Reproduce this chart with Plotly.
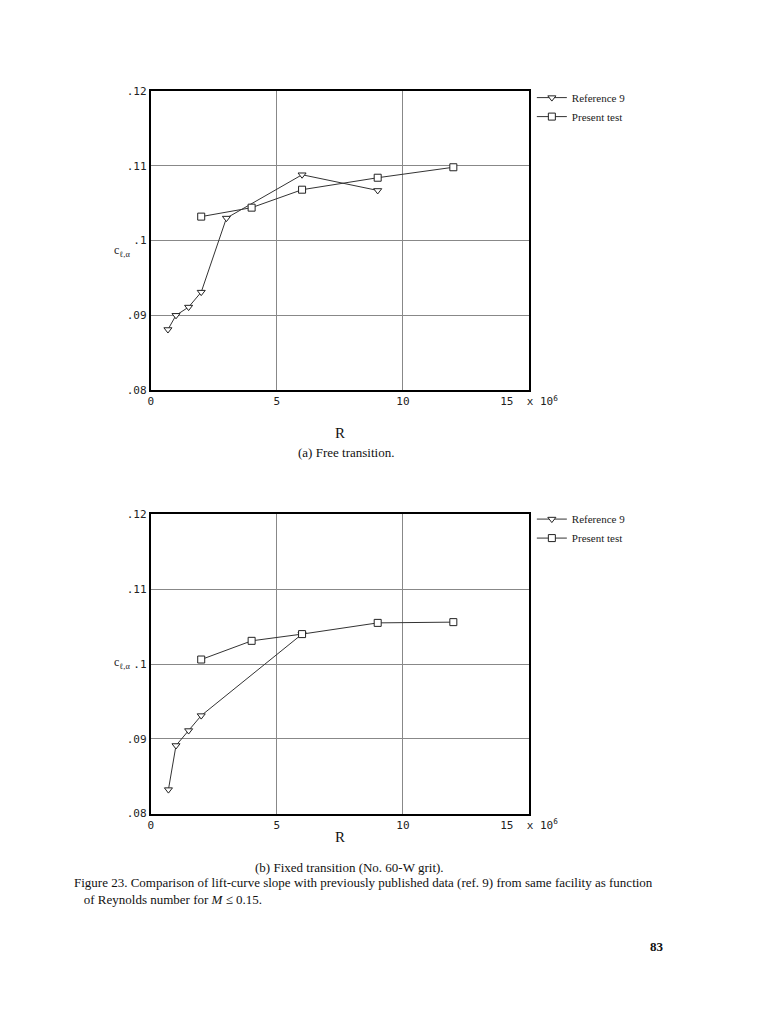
import plotly.graph_objects as go

ref9_a_x = [0.68, 1.0, 1.5, 2.0, 3.0, 6.0, 9.0]
ref9_a_y = [0.0881, 0.0900, 0.0911, 0.0931, 0.1030, 0.1088, 0.1067]
pres_a_x = [2.0, 4.0, 6.0, 9.0, 12.0]
pres_a_y = [0.1032, 0.1044, 0.1068, 0.1084, 0.1098]

ref9_b_x = [0.7, 1.0, 1.5, 2.0, 6.0]
ref9_b_y = [0.0832, 0.0891, 0.0911, 0.0931, 0.1040]
pres_b_x = [2.0, 4.0, 6.0, 9.0, 12.0]
pres_b_y = [0.1006, 0.1031, 0.1040, 0.1055, 0.1056]

x_ticks = [0, 5, 10, 15]
x_labels = ["0", "5", "10", "15  x 10<sup>6</sup>"]
y_ticks = [0.08, 0.09, 0.10, 0.11, 0.12]
y_labels = [".08", ".09", ".1", ".11", ".12"]

W, H = 752, 1008
def px(p): return (p - 8) / W
def py(p): return 1 - (p - 8) / H

fig = go.Figure()
xd = [px(154), px(549)]
yd_a = [py(389), py(86)]
yd_b = [py(818), py(515)]

def add(x, y, sym, name, xa, ya, leg):
    fig.add_trace(go.Scatter(x=x, y=y, mode="lines+markers", name=name,
                             line=dict(color="#333", width=1),
                             marker=dict(symbol=sym, size=7, color="white",
                                         line=dict(color="#222", width=1)),
                             xaxis=xa, yaxis=ya, legend=leg, showlegend=True))

add(ref9_a_x, ref9_a_y, "triangle-down", "Reference 9", "x", "y", "legend")
add(pres_a_x, pres_a_y, "square", "Present test", "x", "y", "legend")
add(ref9_b_x, ref9_b_y, "triangle-down", "Reference 9", "x2", "y2", "legend2")
add(pres_b_x, pres_b_y, "square", "Present test", "x2", "y2", "legend2")

axcommon = dict(showline=True, linecolor="black", linewidth=2, mirror=True,
                showgrid=True, gridcolor="#888", gridwidth=1, zeroline=False,
                ticks="", tickfont=dict(family="DejaVu Sans Mono", size=11, color="#222"))
tf = "Liberation Serif"
fig.update_layout(
    width=W, height=H, margin=dict(l=0, r=0, t=0, b=0),
    plot_bgcolor="white", paper_bgcolor="white",
    xaxis=dict(domain=xd, range=[0, 15], tickvals=x_ticks, ticktext=x_labels, anchor="y", **axcommon),
    yaxis=dict(domain=yd_a, range=[0.08, 0.12], tickvals=y_ticks, ticktext=y_labels, anchor="x", **axcommon),
    xaxis2=dict(domain=xd, range=[0, 15], tickvals=x_ticks, ticktext=x_labels, anchor="y2", **axcommon),
    yaxis2=dict(domain=yd_b, range=[0.08, 0.12], tickvals=y_ticks, ticktext=y_labels, anchor="x2", **axcommon),
    legend=dict(x=px(552), y=py(78), xanchor="left", yanchor="top", bgcolor="rgba(0,0,0,0)",
                font=dict(family=tf, size=11, color="#222"), itemwidth=30, tracegroupgap=2),
    legend2=dict(x=px(552), y=py(505), xanchor="left", yanchor="top", bgcolor="rgba(0,0,0,0)",
                 font=dict(family=tf, size=11, color="#222"), itemwidth=30, tracegroupgap=2),
)

anns = [
    (352, 432, "R", 15), (358, 452, "(a) Free transition.", 13),
    (352, 852, "R", 15), (362, 882, "(b) Fixed transition (No. 60-W grit).", 13),
]
for x, y, t, s in anns:
    fig.add_annotation(x=px(x), y=py(y), xref="paper", yref="paper", text=t, showarrow=False,
                       font=dict(family=tf, size=s, color="#111"))
for y in (238, 665):
    fig.add_annotation(x=px(134), y=py(y), xref="paper", yref="paper", xanchor="right",
                       text="c<sub>ℓ,α</sub>", showarrow=False, font=dict(family=tf, size=12, color="#222"))
fig.add_annotation(x=px(72), y=py(915), xref="paper", yref="paper", xanchor="left", align="left",
                   text="Figure 23. Comparison of lift-curve slope with previously published data (ref. 9) from same facility as function<br>   of Reynolds number for <i>M</i> ≤ 0.15.",
                   showarrow=False, font=dict(family=tf, size=13, color="#111"))
fig.add_annotation(x=px(692), y=py(962), xref="paper", yref="paper", xanchor="right", text="<b>83</b>",
                   showarrow=False, font=dict(family=tf, size=13, color="#111"))

fig.write_html("out.html")
